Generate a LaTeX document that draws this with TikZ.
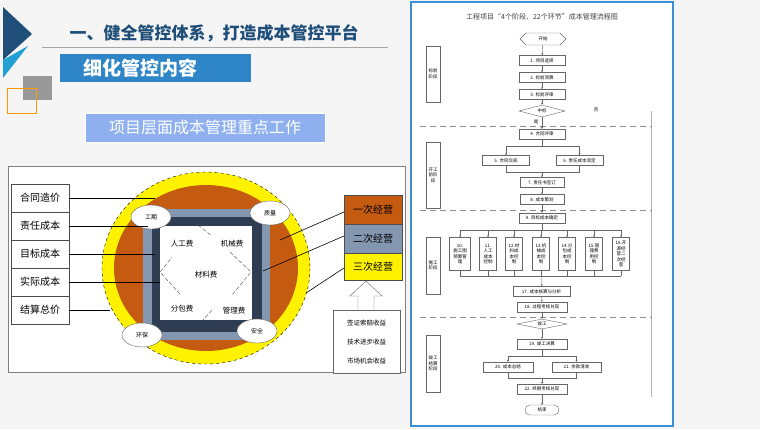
\documentclass[tikz,border=0pt]{standalone}
\usepackage{fontspec}
\setmainfont{Noto Sans CJK SC}
\usetikzlibrary{shapes.geometric,shapes.symbols,shapes.arrows,arrows.meta}
\definecolor{org}{HTML}{C55A11}
\definecolor{slate}{HTML}{8497B0}
\definecolor{navy}{HTML}{2F3D52}
\definecolor{ttl}{HTML}{1F4E79}
\definecolor{bbox}{RGB}{46,134,200}
\definecolor{lbbox}{RGB}{143,176,238}
\definecolor{pframe}{RGB}{58,143,216}
\begin{document}
\begin{tikzpicture}[x=1pt,y=-1pt,
  lbox/.style={draw=black!70,fill=white,minimum width=58pt,minimum height=28pt,font=\fontsize{10}{10}\selectfont,inner sep=0pt},
  oval/.style={ellipse,draw=black!60,fill=white,minimum width=40pt,minimum height=24pt,font=\fontsize{6}{6}\selectfont,inner sep=0pt},
  inn/.style={font=\fontsize{7.5}{8}\selectfont},
  fb/.style={draw=black!60,fill=white,font=\fontsize{4.5}{5}\selectfont,minimum height=10pt,inner sep=0.5pt},
  vb/.style={draw=black!60,fill=white,font=\fontsize{4.5}{5.5}\selectfont,minimum height=33pt,minimum width=17pt,align=center,inner sep=0.5pt},
  sb/.style={draw=black!60,fill=white,font=\fontsize{4.5}{5.5}\selectfont,minimum width=14pt,align=center,inner sep=0pt},
  ar/.style={-{Stealth[length=2pt,width=2pt]},black!60,line width=0.4pt},
  ln/.style={black!60,line width=0.4pt},
  sep/.style={black!45,dash pattern=on 6pt off 4pt,line width=0.8pt}]
\fill[black!4] (0,0) rectangle (760,429);
\useasboundingbox (0,0) rectangle (760,429);
% decorations
\fill[ttl] (3,7) -- (32,34) -- (3,60) -- cycle;
\fill[cyan!70!teal] (3,60) -- (28,46) -- (3,78) -- cycle;
\fill[black!40] (23,76) rectangle (52,100);
\draw[orange!80!yellow,line width=0.6pt] (7,88) rectangle (36,113);
\node[font=\fontsize{17}{17}\selectfont\bfseries,text=ttl,anchor=west] (t1) at (66,33) {一、健全管控体系，打造成本管控平台};
\draw[black!35,line width=0.8pt] (42,47) -- (388,47);
\node[fill=bbox,minimum width=191pt,minimum height=28pt,text=white,font=\fontsize{19}{19}\selectfont\bfseries] (t2) at (155.5,68) {\hspace*{-30pt}细化管控内容};
\node[fill=lbbox,draw=white,minimum width=240pt,minimum height=29pt,text=white,font=\fontsize{16}{16}\selectfont] (t3) at (205,127.5) {项目层面成本管理重点工作};
% left diagram
\draw[black!50,fill=white] (8,166) rectangle (405,372);
\draw[fill=yellow,dashed,draw=black] (206,268) ellipse [x radius=104,y radius=96];
\fill[org] (206,268) ellipse [x radius=92,y radius=83];
\fill[slate] (143,209) rectangle (270,340);
\fill[navy] (152,217) rectangle (262,332);
\fill[white] (160,226) rectangle (252,320);
\draw[black!70,dash pattern=on 4pt off 2pt,line width=0.4pt] (198,225)--(212,236) (230,252)--(251,272)--(232,295) (212,310)--(203,320) (180,294)--(160,272)--(172,257);
\node[inn] (rg) at (182,244) {人工费};
\node[inn] (jx) at (232,244) {机械费};
\node[inn] (cl) at (206,275) {材料费};
\node[inn] (fb) at (182,309) {分包费};
\node[inn] (gl) at (234,311) {管理费};
\node[oval] (gq) at (151,217) {工期};
\node[oval] (zl) at (270,213) {质量};
\node[oval] (hb) at (142,335) {环保};
\node[oval] (aq) at (257,331) {安全};
\foreach \n/\t/\y/\e in {a/合同造价/198/155,b/责任成本/226/148,c/目标成本/254/155,d/实际成本/282/160,e/结算总价/310/110}{
  \node[lbox] (\n) at (40,\y) {\t};
  \coordinate (\n e) at (\e,\y);
  \draw[black,line width=0.6pt] (\n.east) -- (\n e);
}
\node[draw=black!70,fill=org,minimum width=58pt,minimum height=29pt,font=\fontsize{10}{10}\selectfont,text=black] (y1) at (373,209.5) {一次经营};
\node[draw=black!70,fill=slate,minimum width=58pt,minimum height=29pt,font=\fontsize{10}{10}\selectfont] (y2) at (373,238.5) {二次经营};
\node[draw=black!70,fill=yellow,minimum width=58pt,minimum height=27pt,font=\fontsize{10}{10}\selectfont] (y3) at (373,266.5) {三次经营};
\coordinate (p1) at (280,240); \coordinate (p2) at (263,271); \coordinate (p3) at (306,293);
\draw[black,line width=0.6pt] (344,212) -- (p1) (344,236) -- (p2) (344,268) -- (p3);
\draw[black!60,fill=white] (366,281) -- (382,296) -- (374,296) -- (374,311) -- (358,311) -- (358,296) -- (350,296) -- cycle;
\node[draw=black!60,fill=white,minimum width=67pt,minimum height=63pt,align=center,font=\fontsize{6.5}{19}\selectfont] (sy) at (366.5,342) {签证索赔收益\\技术进步收益\\市场机会收益};
% right panel
\fill[white] (411,2) rectangle (673,426);
\draw[pframe,line width=1.5pt] (411,2) rectangle (673,426);
\node[font=\fontsize{7}{7}\selectfont,text=black!75] (ft) at (542,17) {工程项目“4个阶段、22个环节”成本管理流程图};
\node[signal,signal to=west and east,draw=black!60,fill=white,minimum width=46pt,minimum height=12pt,inner sep=0pt,font=\fontsize{4.5}{5}\selectfont] (s0) at (543,39) {开始};
\node[fb,minimum width=46pt] (n1) at (542,60.5) {1. 项目选择};
\node[fb,minimum width=46pt] (n2) at (542,77.5) {2. 标前测算};
\node[fb,minimum width=46pt] (n3) at (542,94.5) {3. 标前评审};
\node[diamond,aspect=4,draw=black!60,fill=white,minimum width=46pt,minimum height=12pt,inner sep=0pt,font=\fontsize{4.5}{5}\selectfont] (zb) at (542,111) {中标};
\node[font=\fontsize{4.5}{5}\selectfont] (no) at (596,110) {否};
\node[font=\fontsize{4.5}{5}\selectfont] (yes) at (536,122) {是};
\draw[black!30,line width=0.5pt] (651,111) -- (651,397);
\node[fb,minimum width=46pt] (n4) at (542,134) {4. 合同评审};
\node[fb,minimum width=47pt] (n5) at (506,160.5) {5. 合同交底};
\node[fb,minimum width=47pt] (n6) at (579.5,160.5) {6. 责任成本测定};
\node[fb,minimum width=44pt] (n7) at (542,182.5) {7. 责任书签订};
\node[fb,minimum width=44pt] (n8) at (542,199.5) {8. 成本策划};
\node[fb,minimum width=46pt] (n9) at (542,218) {9. 目标成本确定};
\node[vb,minimum width=21pt] (m10) at (460,254) {10.\\施工图\\预算管\\理};
\node[vb] (m11) at (488,254) {11.\\人工\\成本\\控制};
\node[vb] (m12) at (514,254) {12.材\\料成\\本控\\制};
\node[vb] (m13) at (541,254) {13.机\\械成\\本控\\制};
\node[vb] (m14) at (567,254) {14.分\\包成\\本控\\制};
\node[vb] (m15) at (594,254) {15.管\\理费\\用控\\制};
\node[vb] (m16) at (621,254) {16.开\\源经\\营二\\次经\\营};
\node[fb,minimum width=57pt] (n17) at (541.5,291.5) {17. 成本核算与分析};
\node[fb,minimum width=50pt] (n18) at (542,307) {18. 过程考核兑现};
\node[diamond,aspect=5,draw=black!60,fill=white,minimum width=50pt,minimum height=10pt,inner sep=0pt,font=\fontsize{4.5}{5}\selectfont] (jg) at (542,324) {竣工};
\node[fb,minimum width=50pt] (n19) at (542,344) {19. 竣工决算};
\node[fb,minimum width=50pt] (n20) at (508,367) {20. 成本总结};
\node[fb,minimum width=49pt] (n21) at (576.5,367) {21. 余款清收};
\node[fb,minimum width=50pt] (n22) at (542,389) {22. 终期考核兑现};
\node[draw=black!60,fill=white,rounded corners=5pt,minimum width=34pt,minimum height=10pt,inner sep=0pt,font=\fontsize{4.5}{5}\selectfont] (end) at (542,410) {结束};
\node[sb,minimum height=56pt] (g1) at (433,74) {标前\\阶段};
\node[sb,minimum height=66pt] (g2) at (433,175) {开工\\前阶\\段};
\node[sb,minimum height=57pt] (g3) at (433,265.5) {施工\\阶段};
\node[sb,minimum height=57pt] (g4) at (433,363.5) {竣工\\结算\\阶段};
\draw[sep] (420,126) -- (652,126);
\draw[sep] (420,210) -- (652,210);
\draw[sep] (420,317) -- (652,317);
\draw[ar] (s0) -- (n1); \draw[ar] (n1) -- (n2); \draw[ar] (n2) -- (n3); \draw[ar] (n3) -- (zb); \draw[ar] (zb) -- (n4);
\draw[ln] (n4.south) -- (542,146); \draw[ln] (506,146) -- (579.5,146);
\draw[ar] (506,146) -- (n5); \draw[ar] (579.5,146) -- (n6);
\draw[ln] (n5.south) -- (506,172) -- (579.5,172) -- (n6.south);
\draw[ar] (542,172) -- (n7); \draw[ar] (n7) -- (n8); \draw[ar] (n8) -- (n9);
\draw[ln] (n9.south) -- (542,230); \draw[ln] (460,230) -- (621,230);
\foreach \m in {m10,m11,m12,m13,m14,m15,m16}{\draw[ar] (\m.north |- 542,230) -- (\m.north); \draw[ln] (\m.south) -- (\m.south |- 542,276);}
\draw[ln] (460,276) -- (621,276);
\draw[ar] (542,276) -- (n17); \draw[ar] (n17) -- (n18); \draw[ar] (n18) -- (jg); \draw[ar] (jg) -- (n19);
\draw[ln] (n19.south) -- (542,356); \draw[ln] (508,356) -- (576.5,356);
\draw[ar] (508,356) -- (n20); \draw[ar] (576.5,356) -- (n21);
\draw[ln] (n20.south) -- (508,378) -- (576.5,378) -- (n21.south);
\draw[ar] (542,378) -- (n22); \draw[ar] (n22) -- (end);
\end{tikzpicture}
\end{document}
